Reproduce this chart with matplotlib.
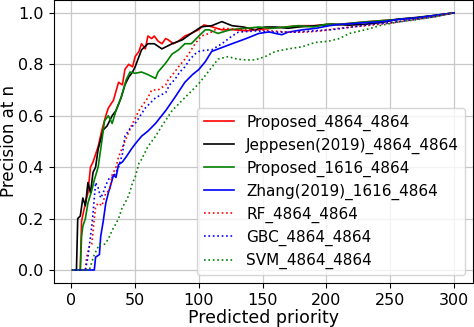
import matplotlib
matplotlib.use("Agg")
import matplotlib.pyplot as plt

# ---- data ----
labels = ["Proposed_4864_4864", "Jeppesen(2019)_4864_4864", "Proposed_1616_4864",
          "Zhang(2019)_1616_4864", "RF_4864_4864", "GBC_4864_4864", "SVM_4864_4864"]

prop4864_n = [1, 7, 8, 11, 13, 15, 17, 19, 21, 24, 27, 29, 33, 37, 40, 42, 45, 48, 50, 53, 55, 58, 60,
              63, 65, 68, 71, 74, 76, 80, 84, 89, 94, 100, 104, 110, 118, 126, 137, 147, 157, 168,
              178, 190, 200, 210, 220, 231, 244, 257, 270, 285, 300]
prop4864_p = [0, 0, 0.19, 0.26, 0.30, 0.40, 0.42, 0.45, 0.48, 0.545, 0.60, 0.63, 0.66, 0.73, 0.72, 0.78,
              0.80, 0.79, 0.83, 0.85, 0.88, 0.86, 0.91, 0.90, 0.91, 0.89, 0.88, 0.90, 0.895, 0.88, 0.89,
              0.91, 0.92, 0.935, 0.953, 0.946, 0.934, 0.935, 0.93, 0.935, 0.94, 0.945, 0.95, 0.95, 0.955,
              0.955, 0.96, 0.965, 0.97, 0.975, 0.98, 0.99, 1.0]

jep_n = [1, 4, 5, 7, 9, 11, 13, 15, 17, 19, 21, 25, 28, 32, 35, 39, 42, 45, 48, 50, 55, 60, 65, 71, 75,
         79, 87, 94, 102, 110, 118, 126, 135, 144, 152, 160, 170, 178, 192, 204, 218, 231, 244, 257,
         270, 285, 300]
jep_p = [0, 0, 0.20, 0.21, 0.28, 0.25, 0.34, 0.30, 0.38, 0.40, 0.47, 0.545, 0.56, 0.60, 0.62, 0.67, 0.72,
         0.75, 0.77, 0.79, 0.856, 0.88, 0.88, 0.86, 0.87, 0.88, 0.895, 0.92, 0.946, 0.95, 0.966, 0.95,
         0.945, 0.934, 0.945, 0.945, 0.94, 0.945, 0.95, 0.956, 0.952, 0.956, 0.963, 0.976, 0.982, 0.99, 1.0]

prop1616_n = [1, 7, 8, 9, 11, 13, 16, 18, 21, 24, 26, 29, 32, 35, 39, 43, 46, 50, 55, 60, 66, 68, 74, 79,
              84, 89, 94, 100, 105, 108, 115, 125, 137, 147, 157, 168, 178, 190, 200, 210, 220, 231,
              244, 257, 270, 285, 300]
prop1616_p = [0, 0, 0.13, 0.17, 0.20, 0.26, 0.31, 0.35, 0.40, 0.505, 0.58, 0.60, 0.57, 0.62, 0.67, 0.74,
              0.77, 0.765, 0.77, 0.76, 0.745, 0.77, 0.805, 0.84, 0.856, 0.88, 0.88, 0.91, 0.934, 0.934,
              0.92, 0.935, 0.94, 0.945, 0.94, 0.945, 0.95, 0.945, 0.956, 0.955, 0.96, 0.965, 0.97, 0.975,
              0.98, 0.99, 1.0]

zhang_n = [1, 18, 19, 22, 23, 25, 27, 29, 32, 33, 35, 37, 40, 43, 47, 50, 55, 60, 66, 74, 81, 89, 95, 100,
           105, 110, 118, 126, 137, 147, 155, 160, 165, 170, 181, 192, 202, 210, 220, 231, 244, 257,
           270, 285, 300]
zhang_p = [0, 0, 0.05, 0.06, 0.13, 0.19, 0.26, 0.30, 0.35, 0.37, 0.36, 0.41, 0.42, 0.44, 0.47, 0.49, 0.52,
           0.54, 0.57, 0.62, 0.67, 0.73, 0.76, 0.78, 0.81, 0.85, 0.865, 0.88, 0.90, 0.92, 0.926, 0.92,
           0.915, 0.925, 0.934, 0.94, 0.95, 0.955, 0.958, 0.962, 0.966, 0.975, 0.98, 0.99, 1.0]

rf_n = [1, 11, 12, 14, 16, 18, 19, 21, 24, 27, 30, 32, 35, 37, 42, 47, 53, 60, 63, 68, 74, 76,
        81, 84, 89, 92, 97, 102, 108, 113, 120, 131, 145, 157, 170, 184, 196, 210, 231, 250, 270, 285, 300]
rf_p = [0, 0, 0.05, 0.09, 0.10, 0.20, 0.245, 0.26, 0.25, 0.30, 0.31, 0.37, 0.40, 0.44, 0.50,
        0.56, 0.62, 0.67, 0.70, 0.70, 0.72, 0.74, 0.77, 0.79, 0.82, 0.84, 0.88, 0.91, 0.92, 0.935, 0.94,
        0.935, 0.935, 0.93, 0.925, 0.925, 0.93, 0.94, 0.95, 0.96, 0.975, 0.985, 1.0]

gbc_n = [1, 11, 13, 16, 17, 19, 21, 23, 25, 27, 30, 33, 37, 40, 42, 46, 50, 54, 58, 62, 66, 70, 74, 77,
         81, 85, 89, 93, 97, 100, 105, 110, 118, 126, 131, 145, 160, 175, 190, 205, 220, 235, 250,
         270, 285, 300]
gbc_p = [0, 0, 0.05, 0.17, 0.22, 0.34, 0.32, 0.28, 0.30, 0.33, 0.36, 0.36, 0.40, 0.45, 0.52, 0.55, 0.57,
         0.60, 0.63, 0.65, 0.67, 0.68, 0.69, 0.72, 0.74, 0.77, 0.79, 0.82, 0.84, 0.85, 0.855, 0.856,
         0.88, 0.91, 0.925, 0.93, 0.925, 0.925, 0.93, 0.935, 0.945, 0.955, 0.962, 0.975, 0.985, 1.0]

svm_n = [1, 14, 16, 18, 20, 22, 24, 26, 29, 32, 35, 37, 40, 42, 45, 48, 50, 53, 55, 60, 66, 71, 79, 84,
         89, 95, 100, 104, 108, 115, 123, 130, 137, 144, 152, 160, 170, 181, 191, 202, 210, 218, 231,
         244, 257, 270, 283, 300]
svm_p = [0, 0, 0.03, 0.06, 0.08, 0.10, 0.10, 0.10, 0.12, 0.155, 0.18, 0.20, 0.245, 0.26, 0.29, 0.34, 0.36,
         0.415, 0.43, 0.48, 0.52, 0.56, 0.62, 0.645, 0.67, 0.70, 0.725, 0.75, 0.775, 0.82, 0.83, 0.82,
         0.817, 0.817, 0.83, 0.85, 0.86, 0.868, 0.885, 0.89, 0.90, 0.92, 0.935, 0.953, 0.965, 0.973,
         0.983, 1.0]

series = [(prop4864_n, prop4864_p, "red", "-"),
          (jep_n, jep_p, "black", "-"),
          (prop1616_n, prop1616_p, "green", "-"),
          (zhang_n, zhang_p, "blue", "-"),
          (rf_n, rf_p, "red", ":"),
          (gbc_n, gbc_p, "blue", ":"),
          (svm_n, svm_p, "green", ":")]

fig = plt.figure(figsize=(4.74, 3.27), dpi=100)
ax = fig.add_axes([0.113, 0.135, 0.885, 0.865])

for (n, p, c, ls), lab in zip(series, labels):
    ax.plot(n, p, color=c, linestyle=ls, linewidth=1.2, label=lab)

ax.set_xticks([0, 50, 100, 150, 200, 250, 300])
ax.set_yticks([0.0, 0.2, 0.4, 0.6, 0.8, 1.0])
ax.tick_params(labelsize=11.5)
ax.set_xlabel("Predicted priority", fontsize=12.5, labelpad=1)
ax.set_ylabel("Precision at n", fontsize=12, labelpad=0.5)
ax.grid(True, color="#c8c8c8", linewidth=0.9)
ax.set_axisbelow(True)
ax.legend(loc="lower right", fontsize=11, labelspacing=0.45, handlelength=2.0,
          borderaxespad=0.5)

fig.savefig("out.png", dpi=100)
